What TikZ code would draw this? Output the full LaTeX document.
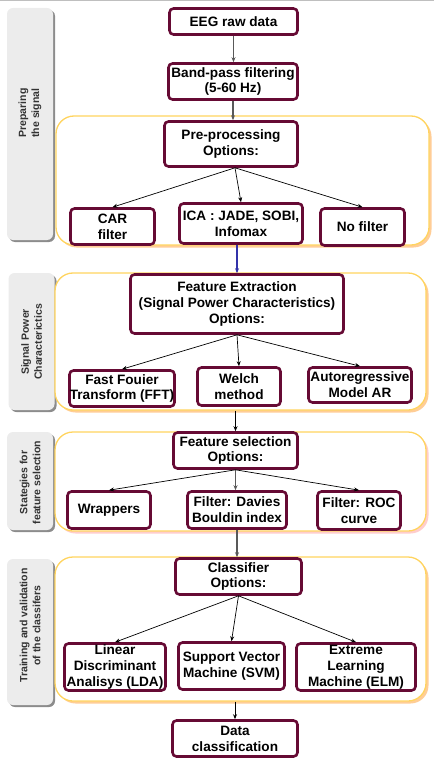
\documentclass[tikz,border=0pt]{standalone}
\usepackage{fontspec}
\setmainfont{Liberation Sans}
\usetikzlibrary{calc,positioning,arrows.meta,shadows}

\definecolor{boxred}{RGB}{102,10,52}
\definecolor{grpline}{RGB}{255,212,95}
\definecolor{grpshade}{RGB}{255,205,150}
\definecolor{grppink}{RGB}{255,205,205}
\definecolor{sidefill}{RGB}{236,236,236}
\definecolor{sideshade}{RGB}{140,140,140}
\definecolor{flowblue}{RGB}{51,51,170}

\tikzset{
  stepbox/.style={rectangle,draw=boxred,line width=2.6pt,rounded corners=4pt,fill=white,inner sep=0pt,
    align=center,font=\bfseries\fontsize{13.6}{15.8}\selectfont},
  grpbox/.style={rectangle,draw=grpline,line width=1.3pt,rounded corners=18pt,fill=white,inner sep=0pt,
    drop shadow={shadow xshift=2.5pt,shadow yshift=-2.5pt,fill=#1,opacity=1}},
  grpbox/.default=grpshade,
  sidebox/.style={rectangle,fill=sidefill,rounded corners=6pt,inner sep=0pt,
    drop shadow={shadow xshift=2pt,shadow yshift=-2pt,fill=sideshade,opacity=1}},
  sidetext/.style={rotate=90,align=center,text=black!80,font=\bfseries\fontsize{10.5}{13}\selectfont},
  fan/.style={-{Stealth[length=5pt,width=4pt]},line width=0.7pt},
  flow/.style={-{Stealth[length=5pt,width=4pt]},line width=1.1pt,draw=black!65},
}

\begin{document}
\begin{tikzpicture}[x=1pt,y=-1pt]

  \useasboundingbox (0,0) rectangle (434,762);
  \draw [black!25,line width=1pt] (0,1) -- (434,1);

  % side labels
  \foreach \i/\cx/\cy/\h/\ty/\txt in {1/30/124/232/113/{Preparing\\the signal},
      2/31.5/341.5/137/342/{Signal Power\\Characterictics},
      3/30/481/98/482.5/{Stategies for\\feature selection},
      4/30/632/146/625.5/{Training and validation\\of the classifers}}
   {
     \node (side_\i) [sidebox,minimum width=46pt,minimum height=\h pt] at(\cx,\cy) {};
     \node (sidetxt_\i) [sidetext] at(\cx,\ty) {\txt};
   }

  % groups
  \node (grp_1) [grpbox,minimum width=373pt,minimum height=129pt] at(242.5,180.5) {};
  \node (grp_2) [grpbox,minimum width=371pt,minimum height=137pt] at(240.5,341.5) {};
  \node (grp_3) [grpbox=grppink,minimum width=371pt,minimum height=99pt] at(240.5,481.5) {};
  \node (grp_4) [grpbox,minimum width=371pt,minimum height=144pt] at(240.5,629) {};

  % steps
  \node (raw) [stepbox,minimum width=128pt,minimum height=26pt] at(233.5,21.5) {EEG raw data};
  \node (bandpass) [stepbox,minimum width=129pt,minimum height=36pt] at(233,81.5) {Band-pass filtering\\(5-60 Hz)};
  \node (preproc) [stepbox,minimum width=133pt,minimum height=45pt] at(231,144) {Pre-processing\\Options:};
  \node (car) [stepbox,minimum width=84pt,minimum height=36pt] at(112.5,226.5) {CAR\\filter};
  \node (ica) [stepbox,minimum width=123pt,minimum height=40pt] at(241,223.5) {ICA : JADE, SOBI,\\Infomax};
  \node (nofilt) [stepbox,minimum width=84pt,minimum height=37pt] at(362.5,227) {No filter};

  \node (featext) [stepbox,minimum width=213pt,minimum height=59pt] at(237,304) {Feature Extraction\\(Signal Power Characteristics)\\Options:};
  \node (fft) [stepbox,minimum width=105pt,minimum height=36pt] at(122,388.5) {Fast Fouier\\Transform (FFT)};
  \node (welch) [stepbox,minimum width=83pt,minimum height=38pt] at(239,386.5) {Welch\\method};
  \node (ar) [stepbox,minimum width=103pt,minimum height=35pt] at(360,385) {Autoregressive\\Model AR};

  \node (featsel) [stepbox,minimum width=124pt,minimum height=36pt] at(235.5,450.5) {Feature selection\\Options:};
  \node (wrap) [stepbox,minimum width=83pt,minimum height=37pt] at(109,510) {Wrappers};
  \node (davies) [stepbox,minimum width=99pt,minimum height=37pt] at(237,510) {Filter: Davies\\Bouldin index};
  \node (roc) [stepbox,minimum width=83pt,minimum height=38pt] at(359,510.5) {Filter: ROC\\curve};

  \node (classif) [stepbox,minimum width=126pt,minimum height=36pt] at(238.5,576.5) {Classifier\\Options:};
  \node (lda) [stepbox,minimum width=101pt,minimum height=47pt] at(115,667) {Linear\\Discriminant\\Analisys (LDA)};
  \node (svm) [stepbox,minimum width=106pt,minimum height=47pt] at(231.5,666) {Support Vector\\Machine (SVM)};
  \node (elm) [stepbox,minimum width=119pt,minimum height=47pt] at(356,667) {Extreme\\Learning\\Machine (ELM)};

  \node (dataclass) [stepbox,minimum width=125pt,minimum height=36pt] at(235,738.5) {Data\\classification};

  % connectors
  \draw [flow] (raw.south) -- (raw.south |- bandpass.north);
  \draw [flow] (bandpass.south) -- (bandpass.south |- preproc.north);
  \foreach \t in {car,ica,nofilt}
    \draw [fan] ($(preproc.south)+(4,0)$) -- (\t.north);
  \draw [flow,draw=flowblue,-{Stealth[length=5pt,width=4pt,fill=flowblue]}] (ica.south -| featext.north) -- (featext.north);
  \foreach \t in {fft,welch,ar}
    \draw [fan] (featext.south) -- (\t.north);
  \draw [fan,line width=0.9pt] (grp_2.south -| featsel.north) -- (featsel.north);
  \draw [fan] (featsel.south) -- (wrap.north);
  \draw [flow] (featsel.south) -- (featsel.south |- davies.north);
  \draw [fan] (featsel.south) -- (roc.north);
  \draw [flow] (davies.south) -- (davies.south |- classif.north);
  \foreach \t in {lda,svm,elm}
    \draw [fan] (classif.south) -- (\t.north);
  \draw [fan,line width=0.9pt] (grp_4.south -| dataclass.north) -- (dataclass.north);

\end{tikzpicture}
\end{document}
